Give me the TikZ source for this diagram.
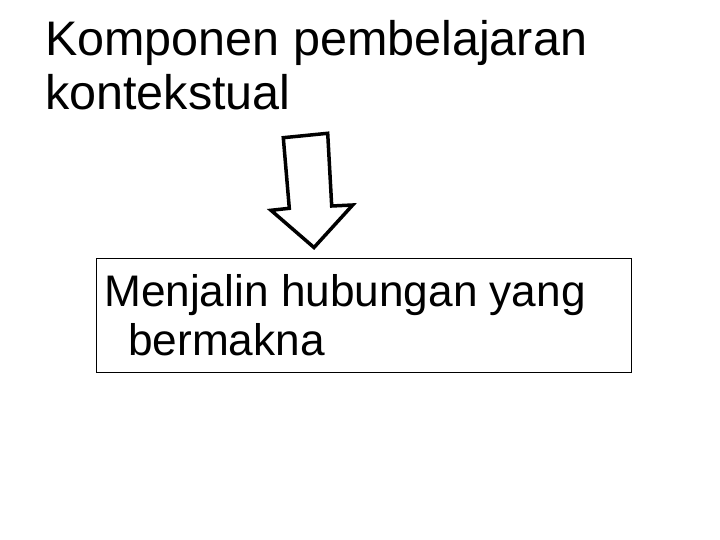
\documentclass[tikz,border=0pt]{standalone}
\usepackage{fontspec}
\setmainfont{Liberation Sans}
\begin{document}
\begin{tikzpicture}[x=1pt,y=-1pt,
  txt/.style={inner sep=0pt,anchor=base west,font=\fontsize{48.5}{54}\selectfont},
  boxtxt/.style={inner sep=0pt,anchor=base west,font=\fontsize{44.2}{48}\selectfont},
  arrowshape/.style={draw=black,line width=3.5pt,line join=miter,fill=white}]
\useasboundingbox[fill=white] (0,0) rectangle (720,540);
\node[txt] (t1) at (45,56) {Komponen pembelajaran};
\node[txt] (t2) at (45,110) {kontekstual};
\draw[arrowshape] (283.3,137.7) -- (327.7,133.3) -- (331.7,206) -- (352.7,205) -- (314,247.5) -- (271,210.3) -- (289.3,208.3) -- cycle;
\draw[line width=1pt] (96,258) rectangle (631,372);
\node[boxtxt] (b1) at (104,306.5) {Menjalin hubungan yang};
\node[boxtxt] (b2) at (128,355) {bermakna};
\end{tikzpicture}
\end{document}
